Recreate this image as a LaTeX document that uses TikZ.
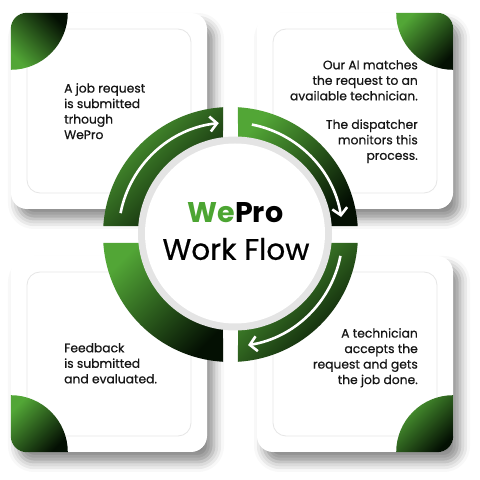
\documentclass[tikz,border=0pt]{standalone}
\usepackage{fontspec}
\setmainfont{Poppins}
\newfontfamily\wpmedium{Poppins}[FakeBold=0.6]
\usepackage{tikz}
\usetikzlibrary{arrows.meta, shadows.blur}
\definecolor{wplight}{RGB}{82,166,54}
\definecolor{wpdark}{RGB}{4,16,3}
\definecolor{wpgreen}{RGB}{76,165,50}
\definecolor{wpink}{RGB}{22,22,22}
\definecolor{wpface}{RGB}{230,230,230}
\definecolor{wpring}{RGB}{228,228,228}
\tikzset{
    tile/.style={fill=white, rounded corners=16pt, minimum width=196pt, minimum height=196pt,
        blur shadow={shadow xshift=7pt, shadow yshift=-10pt, shadow blur radius=10pt, shadow opacity=45}},
    face/.style={draw=wpface, line width=0.8pt, rounded corners=13pt, minimum width=164pt, minimum height=164pt},
    leaf/.style={top color=wplight, bottom color=wpdark, shading angle=45},
    quarter/.style={top color=wplight, bottom color=wpdark, shading angle=45},
    cardtext/.style={text=wpink, inner sep=0pt, font=\wpmedium\fontsize{12.3}{15.5}\selectfont},
    flowarrow/.style={draw=white, line width=2.6pt, -{Straight Barb[length=7pt, width=15pt]}} }

\begin{document}
\begin{tikzpicture}[x=1pt, y=1pt]
      \useasboundingbox (0,0) rectangle (480,480);
      % ---- cards
      \node[tile] (tlcard) at (109,369) {};
      \node[tile] (trcard) at (355,369) {};
      \node[tile] (blcard) at (109,126) {};
      \node[tile] (brcard) at (355,126) {};
      \node[face] (tlface) at (tlcard) {};
      \node[face] (trface) at (trcard) {};
      \node[face] (blface) at (blcard) {};
      \node[face] (brface) at (brcard) {};
      % ---- leaves
      \begin{scope}
          \clip[rounded corners=16pt] (tlcard.south west) rectangle (tlcard.north east);
          \shade[leaf, top color=wpdark, bottom color=wplight, shading angle=-45]
              (tlcard.north west) -- ++(57,0) arc[start angle=0, end angle=-90, radius=57] -- cycle;
      \end{scope}
      \begin{scope}
          \clip[rounded corners=16pt] (trcard.south west) rectangle (trcard.north east);
          \shade[leaf]
              (trcard.north east) -- ++(-57,0) arc[start angle=180, end angle=270, radius=57] -- cycle;
      \end{scope}
      \begin{scope}
          \clip[rounded corners=16pt] (blcard.south west) rectangle (blcard.north east);
          \shade[leaf]
              (blcard.south west) -- ++(0,57) arc[start angle=90, end angle=0, radius=57] -- cycle;
      \end{scope}
      \begin{scope}
          \clip[rounded corners=16pt] (brcard.south west) rectangle (brcard.north east);
          \shade[leaf]
              (brcard.south east) -- ++(-57,0) arc[start angle=180, end angle=90, radius=57] -- cycle;
      \end{scope}
      % ---- texts
      \node[cardtext, align=left, anchor=north west] (tltext) at (64,397)
          {A job request\\is submitted\\trhough\\WePro};
      \node[cardtext, align=right, anchor=north east] (trtext) at (418,420)
          {Our AI matches\\the request to an\\available technician.\\[13pt]The dispatcher\\monitors this\\process.};
      \node[cardtext, align=left, anchor=north west] (bltext) at (64,137)
          {Feedback\\is submitted\\and evaluated.};
      \node[cardtext, align=right, anchor=north east] (brtext) at (418,152)
          {A technician\\accepts the\\request and gets\\the job done.};
      % ---- hub
      \coordinate (hub) at (230.5,245.5);
      \shade[quarter] ([shift={(hub)}]93.37:127.5) arc[start angle=93.37, end angle=176.18, radius=127.5]
          -- ([shift={(hub)}]174.70:92) arc[start angle=174.70, end angle=94.68, radius=92] -- cycle;
      \shade[quarter] ([shift={(hub)}]86.63:127.5) arc[start angle=86.63, end angle=3.82, radius=127.5]
          -- ([shift={(hub)}]5.30:92) arc[start angle=5.30, end angle=85.32, radius=92] -- cycle;
      \shade[quarter] ([shift={(hub)}]-3.82:127.5) arc[start angle=-3.82, end angle=-86.63, radius=127.5]
          -- ([shift={(hub)}]-85.32:92) arc[start angle=-85.32, end angle=-5.30, radius=92] -- cycle;
      \shade[quarter] ([shift={(hub)}]-93.37:127.5) arc[start angle=-93.37, end angle=-176.18, radius=127.5]
          -- ([shift={(hub)}]-174.70:92) arc[start angle=-174.70, end angle=-94.68, radius=92] -- cycle;
      % ----
      \node[circle, fill=wpring, inner sep=0pt, minimum size=194pt] (ring) at (235,246.5) {};
      \node[circle, fill=white, inner sep=0pt, minimum size=180pt] (disc) at (ring) {};
      \node[font=\bfseries\fontsize{28.5}{30}\selectfont] (brand) at (235.5,267) {\textcolor{wpgreen}{We}Pro};
      \node[font=\wpmedium\fontsize{29.5}{30}\selectfont] (flow) at (236,231) {Work Flow};
      % ---- arrows
      \draw[flowarrow] ([shift={(hub)}]169:112) arc[start angle=169, end angle=96, radius=112];
      \draw[flowarrow] ([shift={(hub)}]79:112) arc[start angle=79, end angle=9, radius=112];
      \draw[flowarrow] ([shift={(hub)}]-11:112) arc[start angle=-11, end angle=-81, radius=112];
\end{tikzpicture}
\end{document}
